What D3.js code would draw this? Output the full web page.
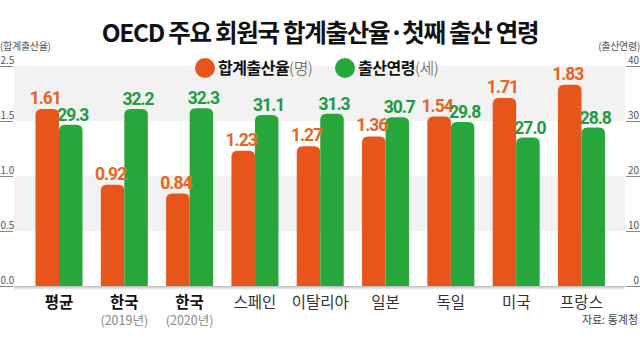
<!DOCTYPE html>
<html><head><meta charset="utf-8">
<script src="https://cdn.jsdelivr.net/npm/d3@7/dist/d3.min.js"></script>
<style>
html,body{margin:0;padding:0;background:#fff;}
svg{display:block;font-family:"Noto Sans CJK KR","Noto Sans",sans-serif;}
</style></head>
<body><svg id="c" width="640" height="342"></svg>
<script>
const categories = ["평균","한국","한국","스페인","이탈리아","일본","독일","미국","프랑스"];
const subLabels = ["","(2019년)","(2020년)","","","","","",""];
const boldCats = [true,true,true,false,false,false,false,false,false];
const fertility = [1.61,0.92,0.84,1.23,1.27,1.36,1.54,1.71,1.83];
const birthAge = [29.3,32.2,32.3,31.1,31.3,30.7,29.8,27.0,28.8];
const leftTicks = [0,0.5,1.0,1.5,2.0];
const leftTickLabels = ["0.0","0.5","1.0","1.5","2.5"];
const rightTicks = [0,10,20,30,40];
const rightTickLabels = ["0","10","20","30","40"];
const seriesNames = ["합계출산율","출산연령"];
const seriesUnits = ["(명)","(세)"];

const C_OR = "#E8551A", C_GR = "#27A73B", T_OR = "#E8641F", T_GR = "#1E9B3C";
const svg = d3.select("#c");
const y0 = 286, yTop = 66, xL = 14, xR = 625;
const yL = d3.scaleLinear().domain([0,2.0]).range([y0,yTop]);
const yR = d3.scaleLinear().domain([0,40]).range([y0,yTop]);
const idx = categories.map((d,i)=>i);
const xc = d3.scalePoint().domain(idx).range([59,581.5]);
const xs = d3.scaleBand().domain([0,1]).range([-23.5,23.5]).padding(0);

// background bands
const bandPairs = [[2.0,1.5],[1.0,0.5]];
svg.selectAll("rect.band").data(bandPairs).join("rect")
  .attr("x",xL).attr("width",xR-xL)
  .attr("y",d=>yL(d[0])).attr("height",d=>yL(d[1])-yL(d[0]))
  .attr("fill","#F2F2F3");

// baseline shadow
const defs = svg.append("defs");
const g = defs.append("linearGradient").attr("id","sh").attr("x1",0).attr("x2",0).attr("y1",0).attr("y2",1);
g.append("stop").attr("offset",0).attr("stop-color","#bbb");
g.append("stop").attr("offset",1).attr("stop-color","#fff");
svg.append("rect").attr("x",xL).attr("width",xR-xL).attr("y",y0).attr("height",4).attr("fill","url(#sh)");

// tick labels and underlines
const lt = svg.append("g");
leftTicks.forEach((t,i)=>{
  lt.append("text").attr("x",0.5).attr("y",yL(t)-2.5).attr("font-size",10).attr("fill","#555").text(leftTickLabels[i]);
  lt.append("line").attr("x1",0).attr("x2",13).attr("y1",yL(t)+0.5).attr("y2",yL(t)+0.5).attr("stroke","#888").attr("stroke-width",1);
});
rightTicks.forEach((t,i)=>{
  lt.append("text").attr("x",639).attr("y",yR(t)-2.5).attr("font-size",10).attr("fill","#555").attr("text-anchor","end").text(rightTickLabels[i]);
  lt.append("line").attr("x1",626).attr("x2",640).attr("y1",yR(t)+0.5).attr("y2",yR(t)+0.5).attr("stroke","#888").attr("stroke-width",1);
});
svg.append("text").attr("x",0).attr("y",50).attr("font-size",10).attr("fill","#555").attr("letter-spacing",-0.3).text("(합계출산율)");
svg.append("text").attr("x",640).attr("y",50).attr("font-size",10).attr("fill","#555").attr("letter-spacing",-0.3).attr("text-anchor","end").text("(출산연령)");

// rounded-top bar path
function barPath(x,w,yt,yb,r){
  r=Math.min(r,w/2,(yb-yt));
  return `M${x},${yb}V${yt+r}Q${x},${yt} ${x+r},${yt}H${x+w-r}Q${x+w},${yt} ${x+w},${yt+r}V${yb}Z`;
}
const bw = xs.bandwidth();
svg.selectAll("path.or").data(idx).join("path").attr("class","or")
  .attr("d",i=>barPath(xc(i)+xs(0),bw,yL(fertility[i]),y0,6)).attr("fill",C_OR);
svg.selectAll("path.gr").data(idx).join("path").attr("class","gr")
  .attr("d",i=>barPath(xc(i)+xs(1),bw,yR(birthAge[i]),y0,6)).attr("fill",C_GR);

// value labels
const numFont = "Roboto, 'Noto Sans', sans-serif";
svg.selectAll("text.vo").data(idx).join("text")
  .attr("x",i=>xc(i)+xs(0)+bw/2-2).attr("y",i=>yL(fertility[i])-5)
  .attr("text-anchor","middle").attr("font-family",numFont).attr("font-size",17.5).attr("font-weight","bold").attr("letter-spacing",-1)
  .attr("fill",T_OR).text(i=>fertility[i].toFixed(2));
svg.selectAll("text.vg").data(idx).join("text")
  .attr("x",i=>xc(i)+xs(1)+bw/2+2).attr("y",i=>yR(birthAge[i])-4)
  .attr("text-anchor","middle").attr("font-family",numFont).attr("font-size",17.5).attr("font-weight","bold").attr("letter-spacing",-1)
  .attr("fill",T_GR).text(i=>birthAge[i].toFixed(1));

// category labels
svg.selectAll("text.cat").data(idx).join("text")
  .attr("x",i=>xc(i)).attr("y",308).attr("text-anchor","middle").attr("font-size",15.5)
  .attr("font-weight",i=>boldCats[i]?"bold":"normal").attr("fill",i=>boldCats[i]?"#111":"#333")
  .text(i=>categories[i]);
svg.selectAll("text.sub").data(idx.filter(i=>subLabels[i])).join("text")
  .attr("x",i=>xc(i)).attr("y",325).attr("text-anchor","middle").attr("font-size",12.5)
  .attr("fill","#888").text(i=>subLabels[i]);

// title
svg.append("text").attr("x",320).attr("y",42).attr("text-anchor","middle").attr("font-size",24.5)
  .attr("font-weight","bold").attr("fill","#111").attr("letter-spacing",-1.3)
  .text("OECD 주요 회원국 합계출산율·첫째 출산 연령");

// legend
const leg = [{cx:205,c:C_OR},{cx:345,c:C_GR}];
leg.forEach((l,i)=>{
  svg.append("circle").attr("cx",l.cx).attr("cy",68).attr("r",10).attr("fill",l.c);
  const t = svg.append("text").attr("x",l.cx+13).attr("y",74).attr("font-size",16).attr("fill","#111").attr("letter-spacing",-0.5);
  t.append("tspan").attr("font-weight","bold").text(seriesNames[i]);
  t.append("tspan").attr("font-weight","300").attr("fill","#555").text(seriesUnits[i]);
});

// source
svg.append("text").attr("x",638).attr("y",324).attr("text-anchor","end").attr("font-size",11)
  .attr("fill","#444").text("자료: 통계청");
</script></body></html>
